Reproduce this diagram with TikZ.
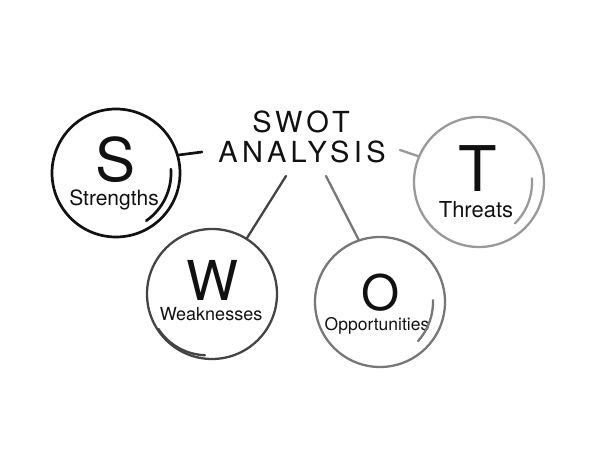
\documentclass[tikz,border=0pt]{standalone}
\usepackage{fontspec}
\setmainfont{TeX Gyre Heros}
\usepackage{tikz}
\tikzset{>=latex}
\definecolor{inkS}{HTML}{111111}
\definecolor{inkW}{HTML}{444444}
\definecolor{inkO}{HTML}{777777}
\definecolor{inkT}{HTML}{999999}
\tikzset{
  blob/.style={circle, draw, line width=2.3pt, minimum size=128pt, inner sep=0pt},
  tail/.style={line width=2.3pt, line cap=round},
  letter/.style={anchor=base, inner sep=0pt, text=inkS},
  word/.style={anchor=base, inner sep=0pt, text=inkS},
}

\begin{document}
\begin{tikzpicture}[x=1pt,y=1pt]
  \useasboundingbox (0,0) rectangle (600,449);

  % Title
  \node[word, font=\fontsize{29}{29}\selectfont\addfontfeatures{LetterSpace=15}] (swot) at (301,316) {SWOT};
  \node[word, font=\fontsize{29}{29}\selectfont\addfontfeatures{LetterSpace=15}] (analysis) at (302,286) {ANALYSIS};

  % Circles
  \node[blob, draw=inkS, line width=2.7pt] (Sc) at (116,276) {};
  \node[blob, draw=inkW, minimum size=130pt] (Wc) at (212,155) {};
  \node[blob, draw=inkO, minimum size=130pt] (Oc) at (380,147) {};
  \node[blob, draw=inkT, minimum size=130pt] (Tc) at (479,267) {};

  % Letters
  \node[letter, font=\fontsize{60}{60}\selectfont] (S) at (116,267) {S};
  \node[word, font=\fontsize{21}{21}\selectfont] (Sw) at (114,243) {Strengths};
  \node[letter, font=\fontsize{55}{55}\selectfont] (W) at (212,148) {W};
  \node[word, font=\fontsize{18}{18}\selectfont] (Ww) at (211,128) {Weaknesses};
  \node[letter, font=\fontsize{49}{49}\selectfont] (O) at (381,138) {O};
  \node[word, font=\fontsize{17.5}{17.5}\selectfont] (Ow) at (377,118) {Opportunities};
  \node[letter, font=\fontsize{63}{63}\selectfont] (T) at (478,257) {T};
  \node[word, font=\fontsize{22}{22}\selectfont] (Tw) at (476,231) {Threats};

  % Free ends near the title
  \coordinate (sEnd) at (202,297);
  \coordinate (wEnd) at (286,273);
  \coordinate (oEnd) at (326,273);
  \coordinate (tEnd) at (400,299);

  % Edges
  \draw[tail, draw=inkS, line width=2.7pt] (Sc.16) -- (sEnd);
  \draw[tail, draw=inkW] (Wc.58) -- (wEnd);
  \draw[tail, draw=inkO] (Oc.109) -- (oEnd);
  \draw[tail, draw=inkT] (Tc.157) -- (tEnd);

  % Loose ends of the hand drawn rings
  \draw[tail, draw=inkS, line width=2.7pt] ([shift={(4:55pt)}]Sc.center) arc[start angle=4, end angle=-55, radius=58pt];
  \draw[tail, draw=inkW] ([shift={(213:64pt)}]Wc.center) arc[start angle=213, end angle=268, radius=58pt];
  \draw[tail, draw=inkO] ([shift={(2:53pt)}]Oc.center) arc[start angle=2, end angle=-42, radius=58pt];
  \draw[tail, draw=inkT] ([shift={(4:53pt)}]Tc.center) arc[start angle=4, end angle=-45, radius=58pt];

\end{tikzpicture}
\end{document}
